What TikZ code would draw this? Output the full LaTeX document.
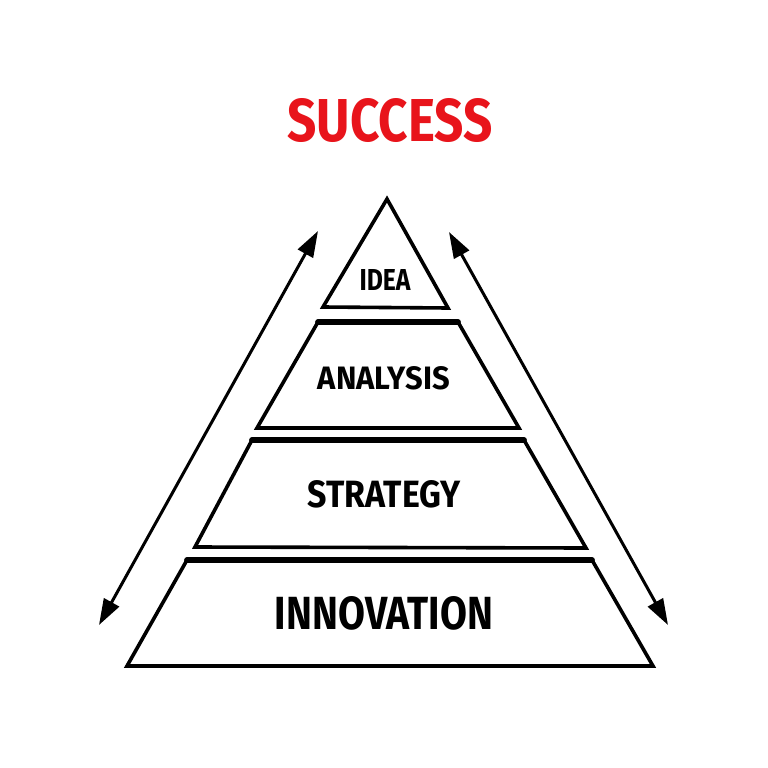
\documentclass[tikz,border=0pt]{standalone}
\usepackage{fontspec}
\setmainfont{Fira Sans}
\usetikzlibrary{arrows.meta}
\definecolor{succred}{HTML}{E8141B}
\tikzset{
  tier/.style={draw=black, line width=3.6pt, line join=miter, fill=white},
  topedge/.style={line width=5.8pt, line cap=round},
  dblarrow/.style={line width=3pt, {Triangle[length=26pt,width=17pt]}-{Triangle[length=26pt,width=17pt]}},
  lbl/.style={inner sep=0pt, text=black}
}
\newcommand{\fitlabel}[3]{\resizebox{#1}{#2}{\bfseries #3}}
\begin{document}
\begin{tikzpicture}[x=1pt,y=-1pt]
\useasboundingbox[fill=white] (0,0) rectangle (768,768);
% title
\node[lbl, text=succred] (title) at (390,121) {\fitlabel{205pt}{43pt}{SUCCESS}};
% tier corner coordinates
\coordinate (ia) at (387,199);
\coordinate (il) at (323,307);
\coordinate (ir) at (448,308);
\coordinate (atl) at (318,322);
\coordinate (atr) at (458,322);
\coordinate (abr) at (519,428);
\coordinate (abl) at (257,428);
\coordinate (stl) at (252,440);
\coordinate (str) at (524,440);
\coordinate (sbr) at (586,548);
\coordinate (sbl) at (195,547);
\coordinate (ntl) at (187,560);
\coordinate (ntr) at (592,560);
\coordinate (nbr) at (653,666);
\coordinate (nbl) at (127,666);
% tiers
\draw[tier] (ia) -- (ir) -- (il) -- cycle;
\draw[tier] (atl) -- (atr) -- (abr) -- (abl) -- cycle;
\draw[topedge] (atl) -- (atr);
\draw[tier] (stl) -- (str) -- (sbr) -- (sbl) -- cycle;
\draw[topedge] (stl) -- (str);
\draw[tier] (ntl) -- (ntr) -- (nbr) -- (nbl) -- cycle;
\draw[topedge] (ntl) -- (ntr);
% labels
\node[lbl] (idea) at (385,280) {\fitlabel{51pt}{21pt}{IDEA}};
\node[lbl] (analysis) at (384,378) {\fitlabel{132pt}{23pt}{ANALYSIS}};
\node[lbl] (strategy) at (384,494) {\fitlabel{153pt}{27pt}{STRATEGY}};
\node[lbl] (innovation) at (384,613) {\fitlabel{218pt}{33pt}{INNOVATION}};
% arrows
\coordinate (lt) at (318,231);
\coordinate (lb) at (99,625);
\coordinate (rt) at (449,232);
\coordinate (rb) at (668,625);
\draw[dblarrow] (lt) -- (lb);
\draw[dblarrow] (rt) -- (rb);
\end{tikzpicture}
\end{document}
